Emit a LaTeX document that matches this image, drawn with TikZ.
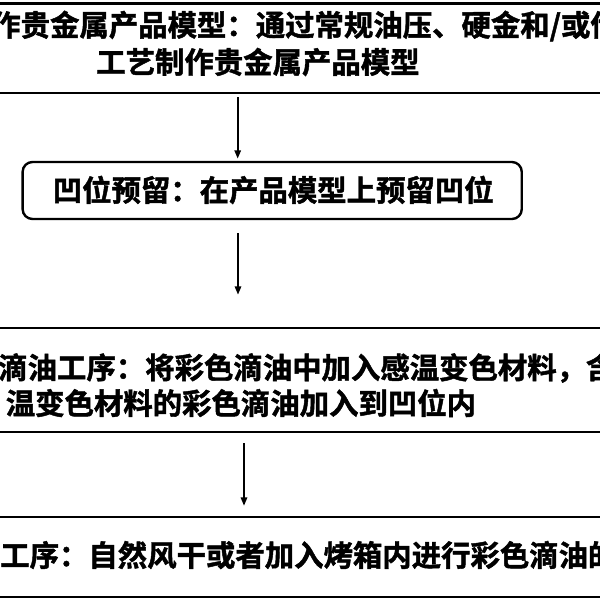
\documentclass[tikz,border=0pt]{standalone}
\usepackage{fontspec}
\setmainfont{Noto Sans CJK SC}[BoldFont={Noto Sans CJK SC Bold},BoldFeatures={FakeBold=1.5}]
\usetikzlibrary{arrows.meta}
\begin{document}
\begin{tikzpicture}[x=0.025cm,y=-0.025cm,
  boxline/.style={draw=black,line width=1.7pt,inner sep=0pt},
  txt/.style={anchor=west,inner sep=0pt,font=\fontsize{20.9pt}{25pt}\selectfont\bfseries},
  arr/.style={line width=1.4pt,-{Triangle[length=6pt,width=4.5pt]}}]
\useasboundingbox (0,0) rectangle (600,600);
\fill[white] (0,0) rectangle (600,600);
% boxes
\node[boxline,minimum width=16cm,minimum height=2.2375cm] (b1) at (300,48.25) {};
\node[boxline,rounded corners=7pt,minimum width=12.475cm,minimum height=1.425cm] (b2) at (272.2,190.5) {};
\node[boxline,minimum width=16cm,minimum height=2.6cm] (b3) at (300,380) {};
\node[boxline,minimum width=16cm,minimum height=2cm] (b4) at (300,557) {};
% texts
\node[txt] (t1a) at (-9,26) {作贵金属产品模型：通过常规油压、硬金和/或传};
\node[txt] (t1b) at (96,62) {工艺制作贵金属产品模型};
\node[txt] (t2) at (52.5,190) {凹位预留：在产品模型上预留凹位};
\node[txt] (t3a) at (-2,368) {滴油工序：将彩色滴油中加入感温变色材料，含};
\node[txt] (t3b) at (5.5,403) {温变色材料的彩色滴油加入到凹位内};
\node[txt] (t4) at (0,555) {工序：自然风干或者加入烤箱内进行彩色滴油的};
% arrow columns
\coordinate (x1) at (237.7,0);
\coordinate (x2) at (238,0);
\coordinate (x3) at (244,0);
\draw[arr,shorten <=2.1pt,shorten >=1.5pt] (b1.south -| x1) -- (b2.north -| x1);
\draw[arr,shorten <=9.2pt,shorten >=22.8pt] (b2.south -| x2) -- (b3.north -| x2);
\draw[arr,shorten <=7.1pt,shorten >=7.1pt] (b3.south -| x3) -- (b4.north -| x3);
\end{tikzpicture}
\end{document}
